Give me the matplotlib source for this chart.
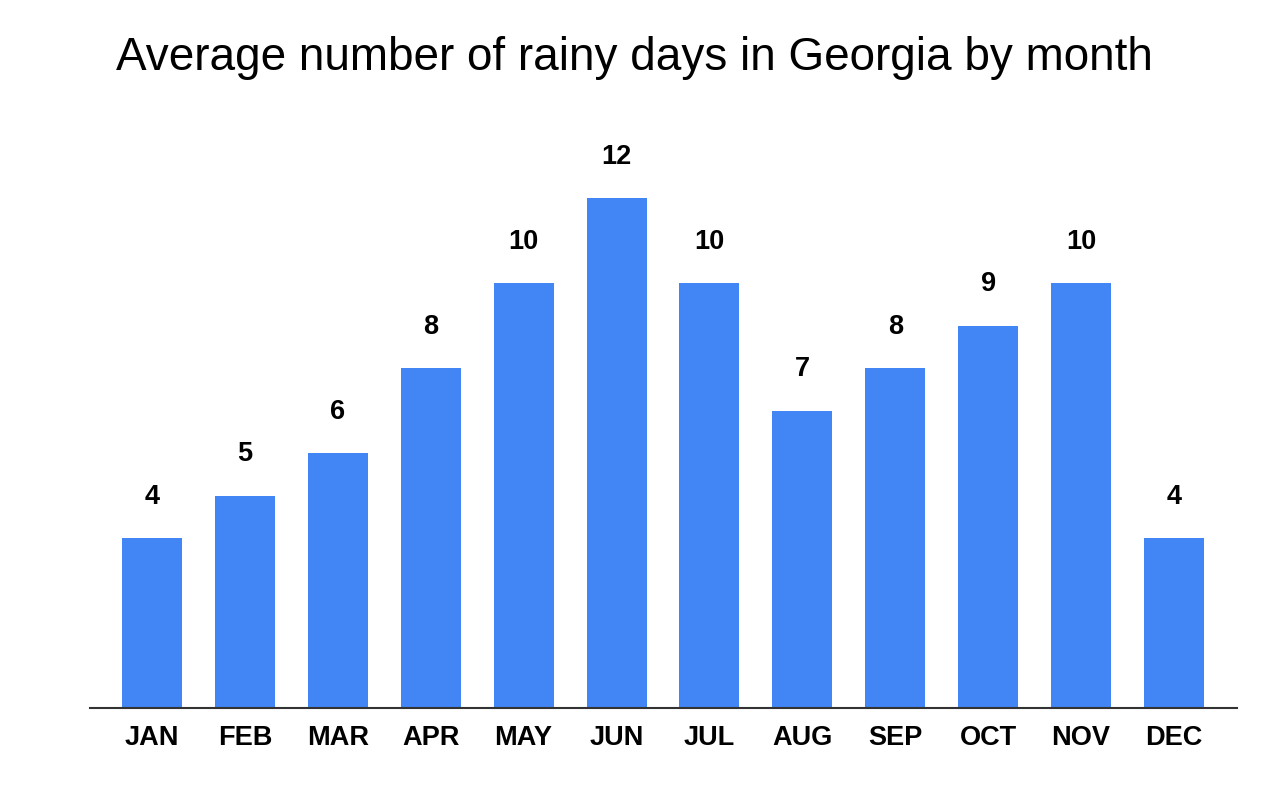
import matplotlib.pyplot as plt

months = ['JAN', 'FEB', 'MAR', 'APR', 'MAY', 'JUN',
          'JUL', 'AUG', 'SEP', 'OCT', 'NOV', 'DEC']
rainy_days = [4, 5, 6, 8, 10, 12, 10, 7, 8, 9, 10, 4]

plt.rcParams['font.family'] = ['Liberation Sans', 'DejaVu Sans']

fig = plt.figure(figsize=(12.72, 7.86), dpi=100)
W, H = 1272, 786
ax = fig.add_axes([90 / W, (H - 708) / H, (1237 - 90) / W, (708 - 120) / H])

x = range(len(months))
bars = ax.bar(x, rainy_days, width=0.646, color='#4285F4')

ax.set_xlim(-0.667, 11.678)
ax.set_ylim(0, 588 / 42.5)

for b, v in zip(bars, rainy_days):
    ax.annotate(str(v), (b.get_x() + b.get_width() / 2, v),
                xytext=(0, 24.5), textcoords='offset points',
                ha='center', va='baseline', fontsize=19.5, fontweight='bold')

ax.set_xticks(list(x))
ax.set_xticklabels(months, fontsize=19.5, fontweight='bold')
ax.tick_params(axis='x', length=0, pad=12)
ax.set_yticks([])
for s in ['top', 'right', 'left']:
    ax.spines[s].set_visible(False)
ax.spines['bottom'].set_color('#333333')
ax.spines['bottom'].set_linewidth(1.5)

fig.text(634 / W, 1 - 58 / H, 'Average number of rainy days in Georgia by month',
         ha='center', va='center', fontsize=33)

fig.savefig('out.png', dpi=100)
